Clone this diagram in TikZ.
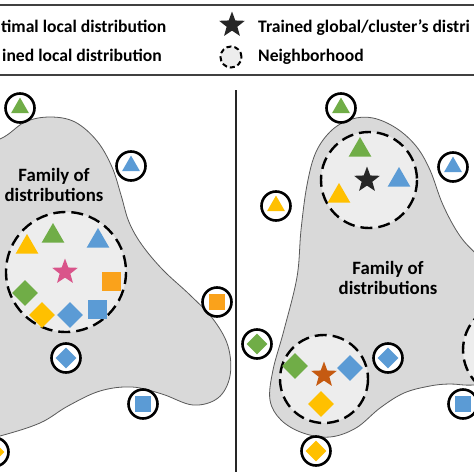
\documentclass[tikz,border=0pt]{standalone}
\usepackage{fontspec}
\setmainfont{Carlito}
\usetikzlibrary{shapes.geometric}

\definecolor{cgreen}{HTML}{70AD47}
\definecolor{cblue}{HTML}{5B9BD5}
\definecolor{cyellow}{HTML}{FFC000}
\definecolor{corange}{HTML}{FAA21B}
\definecolor{cpink}{HTML}{D9548A}
\definecolor{cbrown}{HTML}{C55A11}
\definecolor{cblob}{HTML}{D9D9D9}
\definecolor{cnbhd}{HTML}{EDEDED}

\tikzset{
  trishape/.style={regular polygon, regular polygon sides=3, minimum size=26pt, inner sep=0pt},
  diashape/.style={diamond, minimum size=26pt, inner sep=0pt},
  sqshape/.style={rectangle, minimum size=19pt, inner sep=0pt},
  starmark/.style={star, star points=5, star point ratio=2.4, minimum size=27pt, inner sep=0pt},
  small/.style={scale=0.8},
  ring/.style={circle, draw=black, line width=2.6pt, fill=white, minimum size=29pt, inner sep=0pt},
  nbhd/.style={draw=black, fill=cnbhd, line width=2.4pt, dash pattern=on 12pt off 6pt},
  blob/.style={fill=cblob, draw=black!65, line width=0.8pt},
  legtext/.style={font=\fontsize{17.6}{20}\selectfont\bfseries, inner sep=0pt},
  famtext/.style={font=\fontsize{18.8}{20}\selectfont\bfseries, align=center, inner sep=0pt}
}

\begin{document}
\begin{tikzpicture}[x=1pt, y=-1pt]

  \useasboundingbox (0,0) rectangle (474,474);
  \fill[white] (0,0) rectangle (474,474);
  \clip (0,0) rectangle (474,474);

  % legend
  \draw[black!75, line width=1.5pt] (-5,5) -- (479,5);
  \draw[black!75, line width=1.5pt] (-5,75) -- (479,75);
  \node[legtext, anchor=base west] (lgopt) at (1,32) {timal local distribution};
  \node[legtext, anchor=base west] (lgtrl) at (2,61) {ined local distribution};
  \node[starmark, fill=black!85] (lgstar) at (232,25) {};
  \node[legtext, anchor=base west] (lgtrg) at (258,32) {Trained global/cluster's distri};
  \node[circle, minimum size=21pt, inner sep=0pt, draw=black, fill=cnbhd, line width=2pt,
        dash pattern=on 5pt off 3pt] (lgnbh) at (231,57) {};
  \node[legtext, anchor=base west] (lgnbt) at (258,61) {Neighborhood};

  % divider
  \draw[black!85, line width=1.2pt] (236,90) -- (236,472);

  % families
  \draw[blob] plot[smooth cycle, tension=0.6] coordinates {
    (-40,150) (0,139) (25,122) (50,117) (75,122) (97,141) (112,167) (121,195)
    (129,222) (142,245) (163,270) (190,295) (213,319) (228,346) (230,376)
    (218,398) (193,405) (162,394) (132,387) (100,391) (68,406) (40,423)
    (0,436) (-40,445) (-60,300)};
  \draw[blob] plot[smooth cycle, tension=0.6] coordinates {
    (297,277) (301,230) (307,185) (316,152) (332,130) (352,119) (373,118)
    (396,128) (416,146) (430,170) (443,205) (460,236) (480,258) (520,300)
    (520,380) (474,385) (450,384) (430,386) (404,393) (380,408) (356,428)
    (330,437) (303,433) (281,420) (270,400) (273,370) (284,330)};

  \node[famtext] (famL) at (54,185) {Family of\\distributions};
  \node[famtext] (famR) at (388,278) {Family of\\distributions};

  % neighborhoods
  \draw[nbhd] (66,272) circle (60);
  \draw[nbhd] (369,180) circle (48);
  \draw[nbhd] (324,379) circle (44);
  \draw[nbhd] (510,350) circle (47);

  % local distributions inside the left neighborhood
  \node[trishape, fill=cyellow] (l1) at (27,247) {};
  \node[trishape, fill=cgreen]  (l2) at (53,236) {};
  \node[trishape, fill=cblue]   (l3) at (98,241) {};
  \node[starmark, fill=cpink]   (l0) at (65,272) {};
  \node[sqshape, fill=corange]  (l4) at (111,281) {};
  \node[diashape, fill=cgreen]  (l5) at (25,293) {};
  \node[diashape, fill=cyellow] (l6) at (42,315) {};
  \node[diashape, fill=cblue]   (l7) at (70,315) {};
  \node[sqshape, fill=cblue]    (l8) at (97,309) {};

  % optimal local distributions, left
  \node[ring] (o1) at (20,108) {};   \node[trishape, small, fill=cgreen] at (o1) {};
  \node[ring] (o2) at (131,166) {};  \node[trishape, small, fill=cblue] at (o2) {};
  \node[ring] (o3) at (217,302) {};  \node[sqshape, small, fill=corange] at (o3) {};
  \node[ring] (o4) at (66,358) {};   \node[diashape, small, fill=cblue] at (o4) {};
  \node[ring] (o5) at (143,404) {};  \node[sqshape, small, fill=cblue] at (o5) {};
  \node[ring] (o6) at (-6,452) {};   \node[diashape, small, fill=cyellow] at (o6) {};

  % cluster neighborhoods, right
  \node[trishape, fill=cgreen]  (r1) at (360,150) {};
  \node[starmark, fill=black!85] (r0) at (367,180) {};
  \node[trishape, fill=cblue]   (r2) at (399,180) {};
  \node[trishape, fill=cyellow] (r3) at (339,196) {};
  \node[diashape, fill=cgreen]  (r5) at (295,366) {};
  \node[starmark, fill=cbrown]  (r4) at (324,375) {};
  \node[diashape, fill=cblue]   (r6) at (350,368) {};
  \node[diashape, fill=cyellow] (r7) at (321,404) {};

  % optimal local distributions, right
  \node[ring] (p1) at (341,108) {};  \node[trishape, small, fill=cgreen] at (p1) {};
  \node[ring] (p2) at (453,167) {};  \node[trishape, small, fill=cblue] at (p2) {};
  \node[ring] (p3) at (276,206) {};  \node[trishape, small, fill=cyellow] at (p3) {};
  \node[ring] (p4) at (257,344) {};  \node[diashape, small, fill=cgreen] at (p4) {};
  \node[ring] (p5) at (388,358) {};  \node[diashape, small, fill=cblue] at (p5) {};
  \node[ring] (p6) at (316,451) {};  \node[diashape, small, fill=cyellow] at (p6) {};
  \node[ring] (p7) at (463,404) {};  \node[sqshape, small, fill=cblue] at (p7) {};

\end{tikzpicture}
\end{document}
